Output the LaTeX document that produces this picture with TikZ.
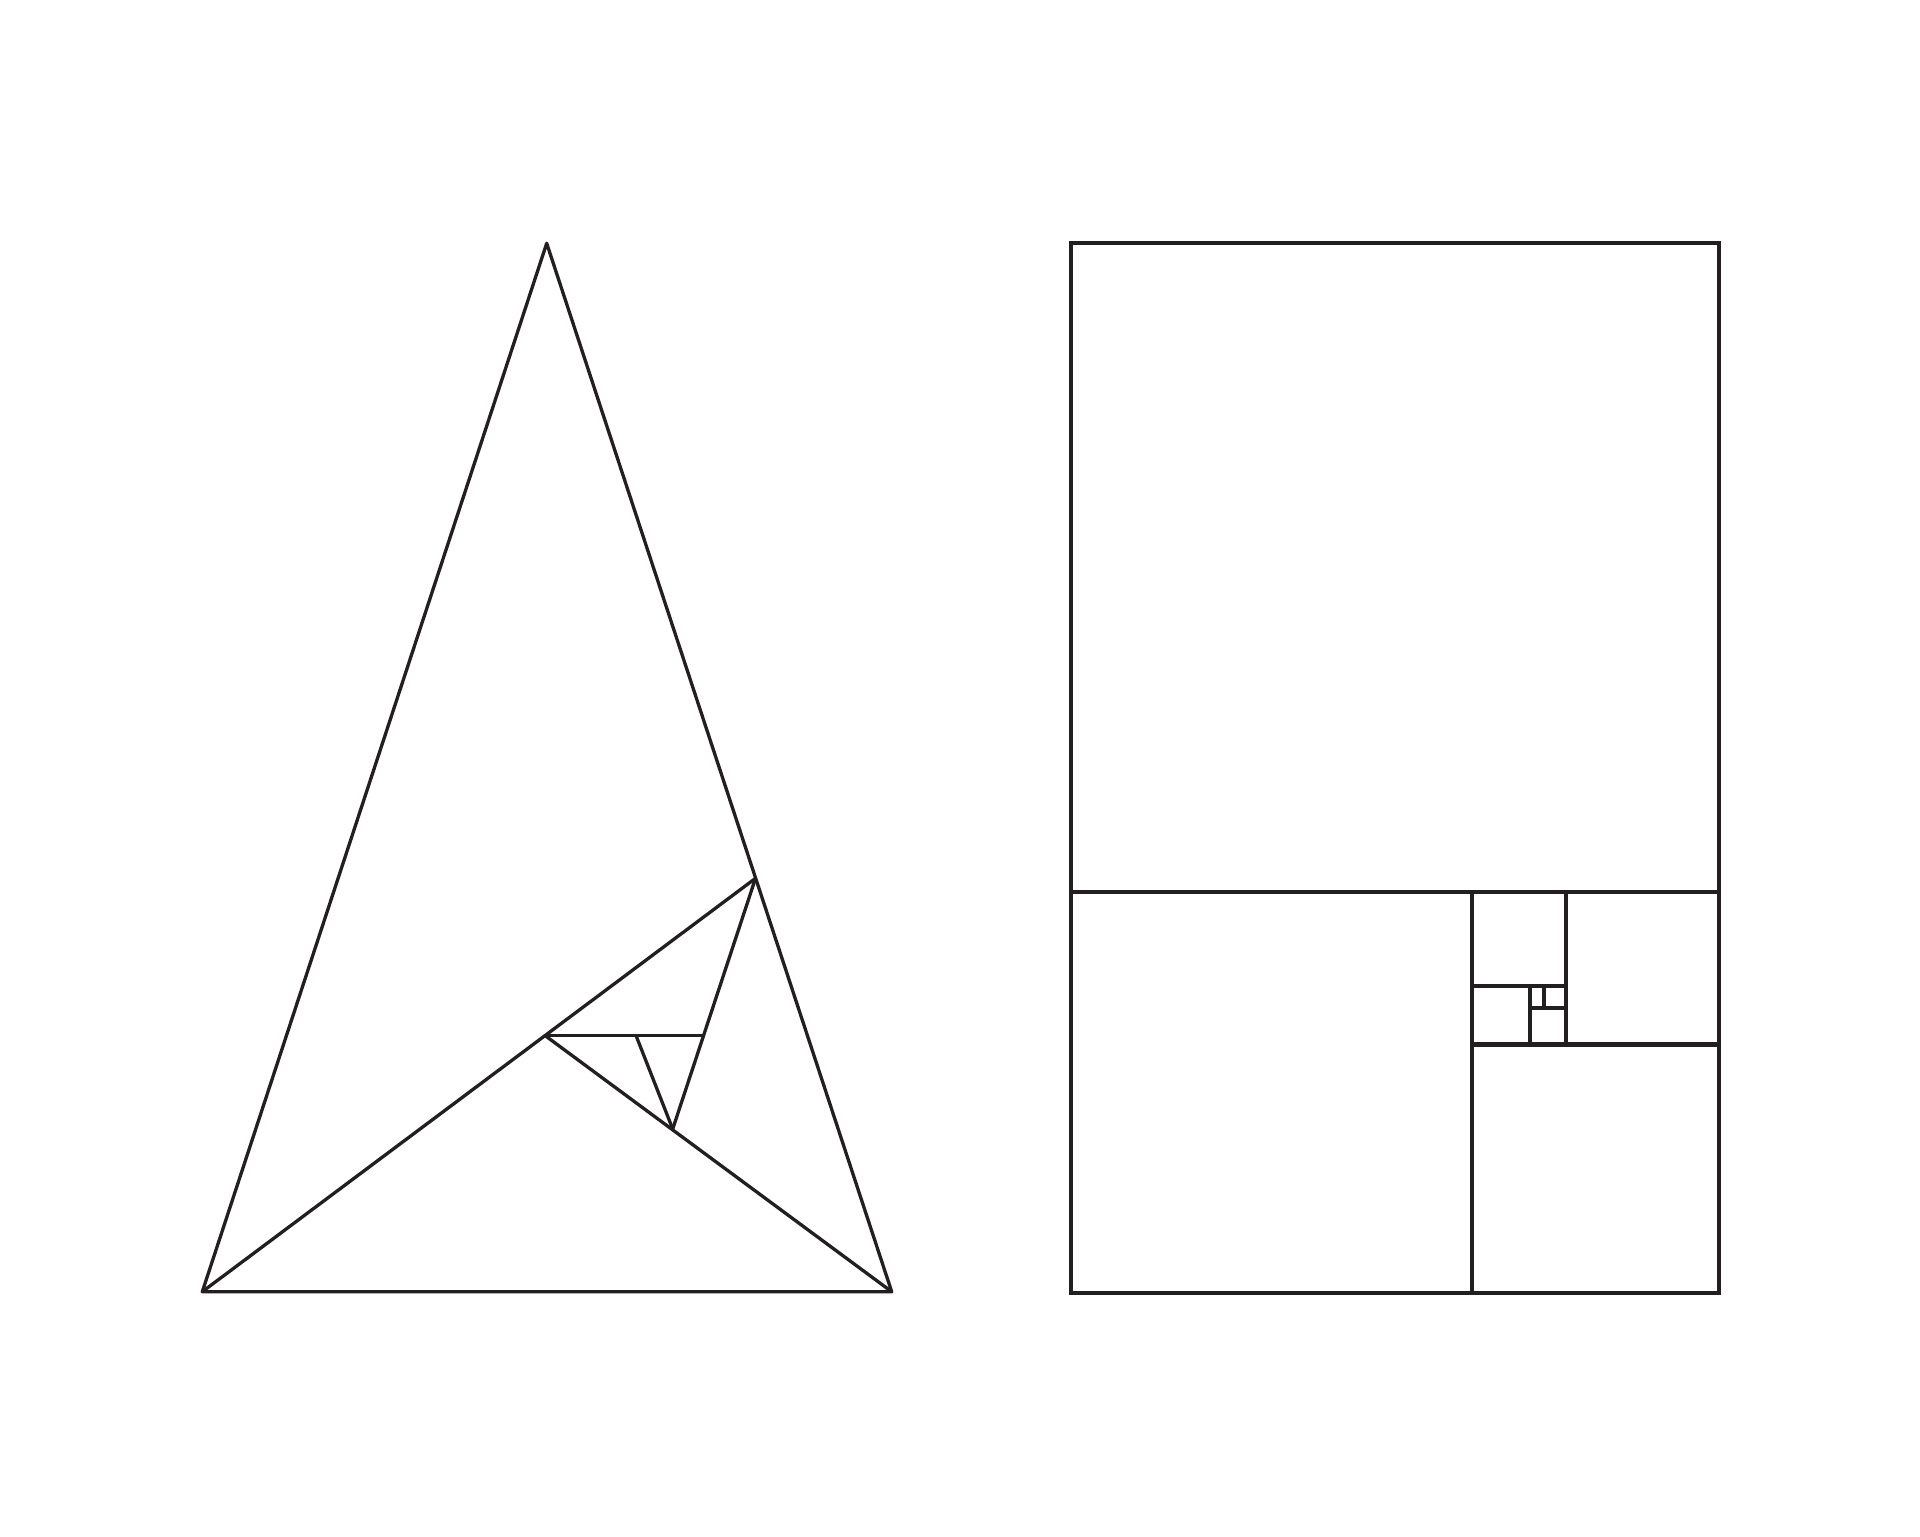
\documentclass[tikz,border=0pt]{standalone}
\definecolor{ink}{RGB}{35,31,32}
\begin{document}
\begin{tikzpicture}[x=0.5pt,y=-0.5pt,
  tri/.style={draw=ink,line width=1.65pt,line join=round,line cap=round},
  rect/.style={draw=ink,line width=2.1pt,line join=miter,line cap=rect}]
\useasboundingbox[fill=white] (0,0) rectangle (1920,1536);
% golden triangle
\coordinate (A) at (546.7,243.3);
\coordinate (B) at (202.3,1291.7);
\coordinate (C) at (891.7,1291.7);
\coordinate (D) at (755.5,878.3);
\coordinate (E) at (545,1035.5);
\coordinate (F) at (672.7,1129);
\coordinate (G) at (703.3,1035.5);
\coordinate (H) at (636,1035.5);
\draw[tri] (A) -- (B) -- (C) -- cycle;
\draw[tri] (B) -- (D);
\draw[tri] (C) -- (E);
\draw[tri] (D) -- (F);
\draw[tri] (E) -- (G);
\draw[tri] (F) -- (H);
% golden rectangle
\coordinate (R1) at (1071,243.3);
\coordinate (R2) at (1718.7,1292.7);
\draw[rect] (R1) rectangle (R2);
\coordinate (h1a) at (1071,891.7);
\coordinate (h1b) at (1718.7,891.7);
\draw[rect] (h1a) -- (h1b);
\coordinate (v1a) at (1471.7,891.7);
\coordinate (v1b) at (1471.7,1292.7);
\draw[rect] (v1a) -- (v1b);
\coordinate (h2a) at (1471.7,1044.4);
\coordinate (h2b) at (1718.7,1044.4);
\draw[rect] (h2a) -- (h2b);
\coordinate (v2a) at (1566,891.7);
\coordinate (v2b) at (1566,1044.4);
\draw[rect] (v2a) -- (v2b);
\coordinate (h3a) at (1471.7,985.7);
\coordinate (h3b) at (1566,985.7);
\draw[rect] (h3a) -- (h3b);
\coordinate (v3a) at (1529.8,985.7);
\coordinate (v3b) at (1529.8,1044.4);
\draw[rect] (v3a) -- (v3b);
\coordinate (h4a) at (1529.8,1008.3);
\coordinate (h4b) at (1566,1008.3);
\draw[rect] (h4a) -- (h4b);
\coordinate (v4a) at (1544,985.7);
\coordinate (v4b) at (1544,1008.3);
\draw[rect] (v4a) -- (v4b);
\end{tikzpicture}
\end{document}
